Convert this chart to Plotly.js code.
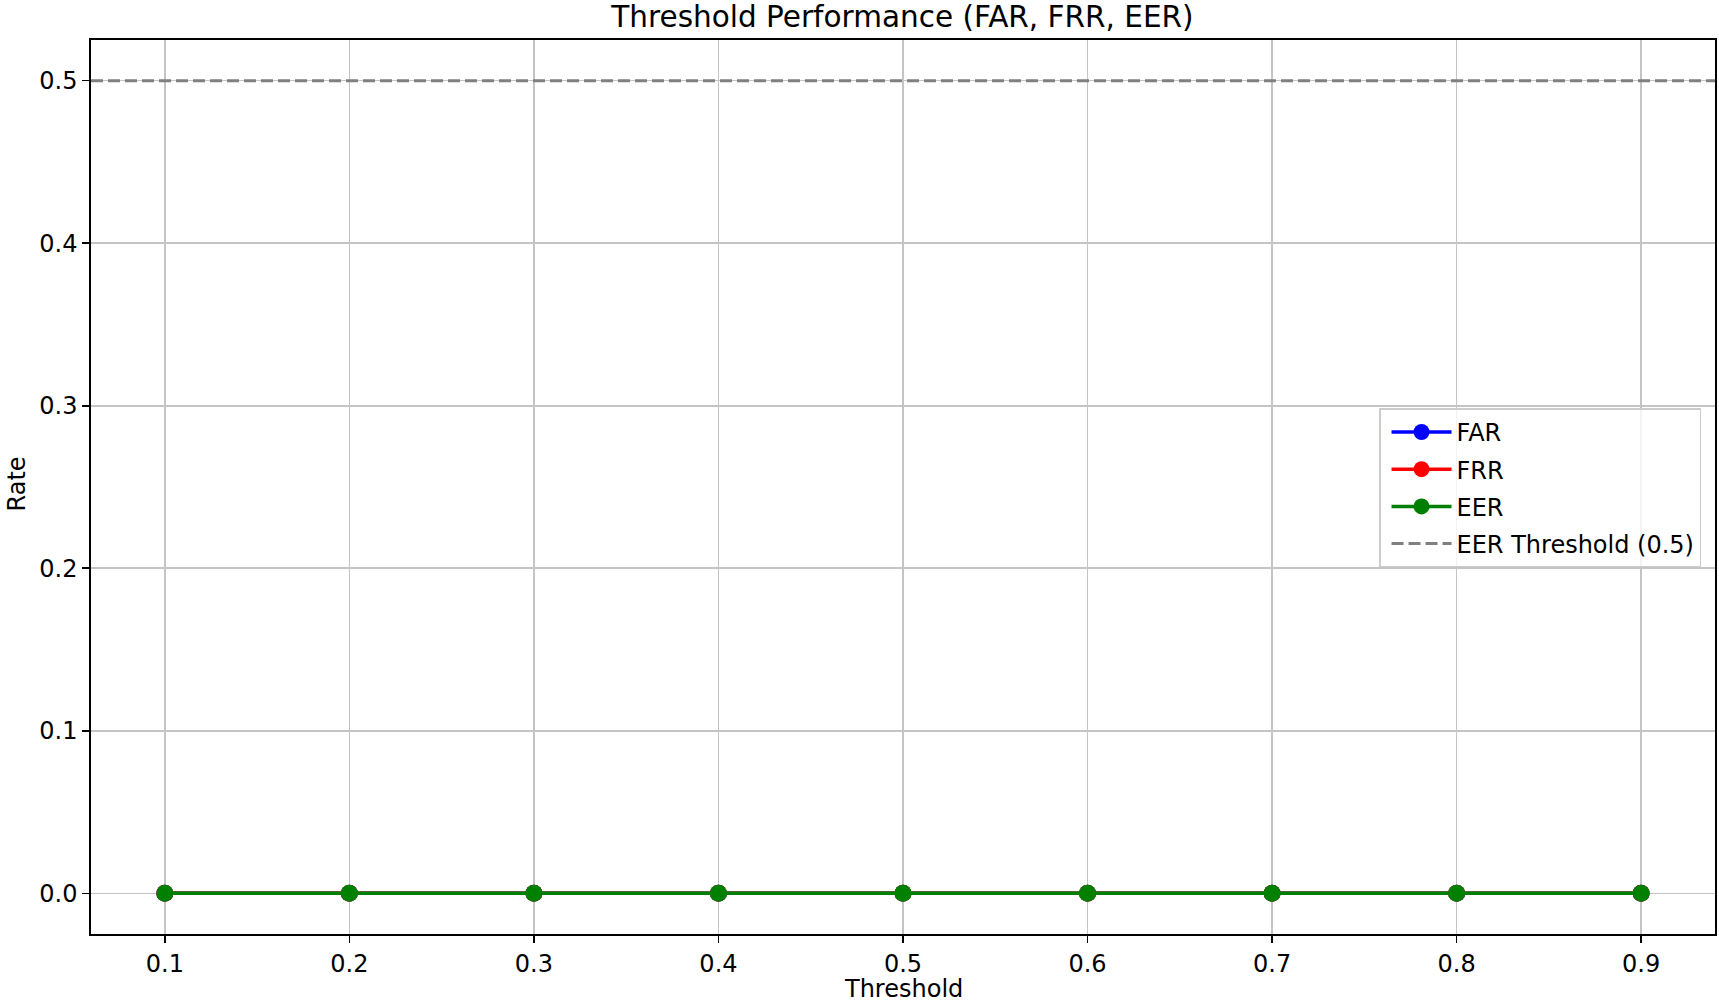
<!DOCTYPE html>
<html>
<head>
<meta charset="utf-8">
<script src="https://cdn.plot.ly/plotly-3.0.1.min.js"></script>
<style>html,body{margin:0;padding:0;background:#fff;}#chart{width:1719px;height:1005px;}</style>
</head>
<body>
<div id="chart"></div>
<script>
const thresholds = [0.1, 0.2, 0.3, 0.4, 0.5, 0.6, 0.7, 0.8, 0.9];
const farValues = [0, 0, 0, 0, 0, 0, 0, 0, 0];
const frrValues = [0, 0, 0, 0, 0, 0, 0, 0, 0];
const eerValues = [0, 0, 0, 0, 0, 0, 0, 0, 0];
const eerThreshold = 0.5;
const xTicks = [0.1, 0.2, 0.3, 0.4, 0.5, 0.6, 0.7, 0.8, 0.9];
const yTicks = [0.0, 0.1, 0.2, 0.3, 0.4, 0.5];
const xLabel = 'Threshold';
const yLabel = 'Rate';

const FONT = 'DejaVu Sans';
const FS = 24;
function series(name, y, color, rank) {
  return {
    type: 'scatter', mode: 'lines+markers', name: name,
    x: thresholds, y: y, legendgroup: name, legendrank: rank,
    line: {color: color, width: 3.5},
    marker: {color: color, size: 17, symbol: 'circle'}
  };
}
const data = [
  series('FAR', farValues, '#0000ff', 1),
  series('FRR', frrValues, '#ff0000', 2),
  series('EER', eerValues, '#008000', 3)
];
const layout = {
  width: 1719, height: 1005,
  margin: {l: 91, r: 4, t: 40, b: 71},
  paper_bgcolor: '#ffffff', plot_bgcolor: '#ffffff',
  font: {family: FONT, size: FS, color: '#000000'},
  title: {text: 'Threshold Performance (FAR, FRR, EER)', x: 0.525, xanchor: 'center',
          yref: 'container', y: 0.983, yanchor: 'middle', font: {family: FONT, size: 29.5, color: '#000'}},
  xaxis: {
    range: [0.06, 0.94], tickvals: xTicks, ticktext: xTicks.map(v => v.toFixed(1)),
    showgrid: true, gridcolor: '#c4c4c4', gridwidth: 1.7, zeroline: false,
    showline: true, linecolor: '#000', linewidth: 1.7, mirror: true,
    ticks: 'outside', ticklen: 7, tickwidth: 1.7, tickcolor: '#000',
    tickfont: {family: FONT, size: FS, color: '#000'}
  },
  yaxis: {
    range: [-0.025, 0.525], tickvals: yTicks, ticktext: yTicks.map(v => v.toFixed(1)),
    showgrid: true, gridcolor: '#c4c4c4', gridwidth: 1.7, zeroline: false,
    showline: true, linecolor: '#000', linewidth: 1.7, mirror: true,
    ticks: 'outside', ticklen: 7, tickwidth: 1.7, tickcolor: '#000',
    tickfont: {family: FONT, size: FS, color: '#000'}
  },
  annotations: [
    {text: xLabel, xref: 'paper', yref: 'paper', x: 0.5, y: -0.0612, xanchor: 'center', yanchor: 'middle',
     showarrow: false, font: {family: FONT, size: FS, color: '#000'}},
    {text: yLabel, xref: 'paper', yref: 'paper', x: -0.0455, y: 0.503, xanchor: 'center', yanchor: 'middle',
     textangle: -90, showarrow: false, font: {family: FONT, size: FS, color: '#000'}}
  ],
  legend: {
    x: 0.9914, xanchor: 'right', y: 0.499, yanchor: 'middle',
    bgcolor: 'rgba(255,255,255,0.8)', bordercolor: '#cccccc', borderwidth: 1.5,
    font: {family: FONT, size: FS, color: '#000'},
    traceorder: 'grouped', tracegroupgap: 3, itemwidth: 60, indentation: 6
  },
  shapes: [{
    type: 'line', xref: 'paper', x0: 0, x1: 1, yref: 'y', y0: eerThreshold, y1: eerThreshold,
    line: {color: '#808080', width: 3, dash: '12px,5px'},
    showlegend: true, name: 'EER Threshold (0.5)', legendgroup: 'thr', legendrank: 4
  }]
};
Plotly.newPlot('chart', data, layout, {displayModeBar: false, staticPlot: true});
</script>
</body>
</html>
